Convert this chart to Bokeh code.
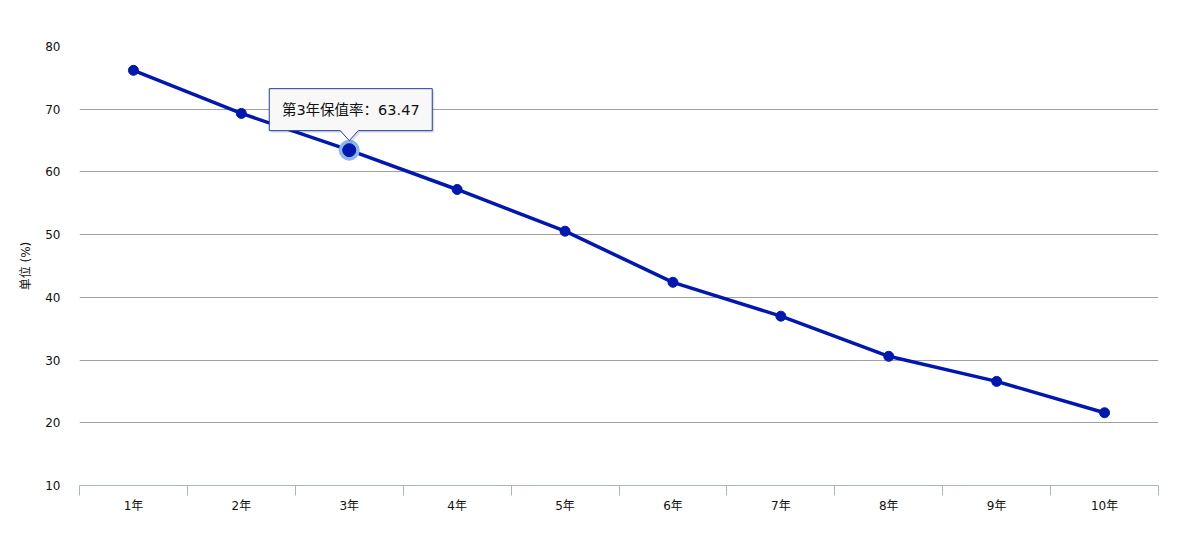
from bokeh.plotting import figure
from bokeh.models import Range1d, FixedTicker
from bokeh.core.properties import value
from bokeh.embed import file_html
from bokeh.resources import INLINE

# ---- data ----
years = ["1年", "2年", "3年", "4年", "5年", "6年", "7年", "8年", "9年", "10年"]
retention = [76.2, 69.33, 63.47, 57.2, 50.55, 42.4, 37.0, 30.6, 26.6, 21.6]
y_ticks = [10, 20, 30, 40, 50, 60, 70, 80]
y_title = "单位 (%)"
highlight_index = 2
tooltip_text = f"第{highlight_index + 1}年保值率：{retention[highlight_index]:.2f}"

# ---- style ----
BLUE = "#0018b0"
HALO = "#8cb8e8"
GRID = "#a0a0a0"
AXIS = "#a3b6cd"
FONT = "DejaVu Sans, Noto Sans CJK SC"

W, H = 1168, 536
BL, BR, BT, BB = 79, 10, 46, 51
FRAME_W = W - BL - BR
FRAME_H = H - BT - BB

y_min, y_max = y_ticks[0], y_ticks[-1]
p = figure(width=W, height=H, output_backend="svg", toolbar_location=None,
           x_range=Range1d(0, len(years)), y_range=Range1d(y_min, y_max),
           min_border_left=BL, min_border_right=BR, min_border_top=BT, min_border_bottom=BB)
p.outline_line_color = None
p.background_fill_color = "white"
p.border_fill_color = "white"

xs = [i + 0.5 for i in range(len(years))]

# x axis: labels at category centres, ticks at category boundaries
xa = p.xaxis[0]
xa.ticker = FixedTicker(ticks=xs, minor_ticks=list(range(len(years) + 1)))
xa.major_label_overrides = {x: lab for x, lab in zip(xs, years)}
xa.axis_line_color = AXIS
xa.axis_line_width = 1
xa.major_tick_line_color = None
xa.major_tick_out = 0
xa.major_tick_in = 0
xa.minor_tick_line_color = AXIS
xa.minor_tick_out = 10
xa.minor_tick_in = 0
xa.major_label_standoff = 3
xa.major_label_text_font = FONT
xa.major_label_text_font_size = "12px"
xa.major_label_text_color = "#111111"

ya = p.yaxis[0]
ya.ticker = FixedTicker(ticks=y_ticks)
ya.axis_line_color = None
ya.major_tick_line_color = None
ya.minor_tick_line_color = None
ya.major_tick_out = 0
ya.major_tick_in = 0
ya.major_label_standoff = 19
ya.major_label_text_font = FONT
ya.major_label_text_font_size = "12px"
ya.major_label_text_color = "#111111"
ya.axis_label = y_title
ya.axis_label_text_font = FONT
ya.axis_label_text_font_size = "12px"
ya.axis_label_text_font_style = "normal"
ya.axis_label_text_color = "#111111"
ya.axis_label_standoff = 9

p.xgrid.grid_line_color = None
p.ygrid.grid_line_color = GRID
p.ygrid.grid_line_width = 1

# series
p.line(xs, retention, line_width=3.5, color=BLUE)
p.scatter(xs, retention, size=10, color=BLUE)

# highlighted point
hx, hy = xs[highlight_index], retention[highlight_index]
p.scatter([hx], [hy], size=21, fill_color=HALO, line_color=None)
p.scatter([hx], [hy], size=13, color=BLUE)

# tooltip (offsets in pixels converted to data units)
px_x = FRAME_W / (len(years))
px_y = FRAME_H / (y_max - y_min)
def dx(v):
    return hx + v / px_x
def dy(v):
    return hy + v / px_y

L, R, T, B, TIP, HW = -80, 83, 61.5, 19.5, 9.5, 9
box_x = [dx(L), dx(-HW), dx(0), dx(HW), dx(R), dx(R), dx(L)]
box_y = [dy(B), dy(B), dy(TIP), dy(B), dy(B), dy(T), dy(T)]
sh = 2
p.patch([x + sh / px_x for x in box_x], [y - sh / px_y for y in box_y],
        fill_color="black", fill_alpha=0.12, line_color=None)
p.patch(box_x, box_y, fill_color="#f8f8f8", line_color="#1f3c9e", line_width=1)
p.text([hx], [hy], text=[tooltip_text], x_offset=1.5, y_offset=-40.5,
       text_font=value(FONT), text_font_size="14.5px", text_color="#111111",
       text_align="center", text_baseline="middle")

open("out.html", "w").write(file_html(p, INLINE))
